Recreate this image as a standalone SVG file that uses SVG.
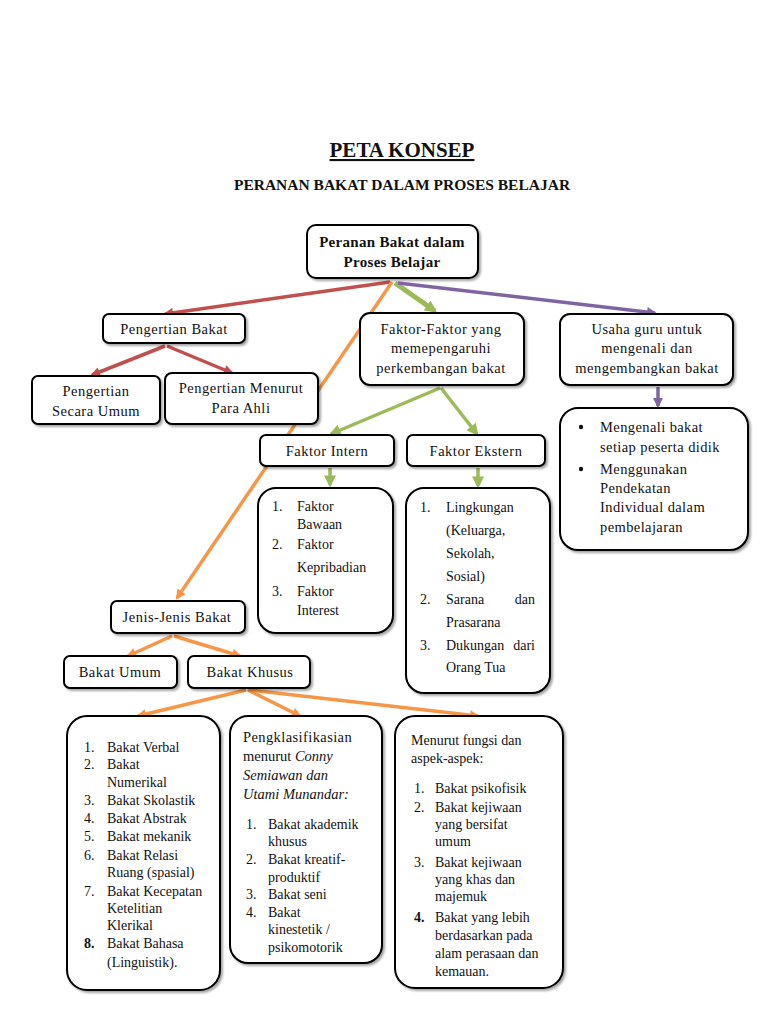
<svg xmlns="http://www.w3.org/2000/svg" width="768" height="1024" viewBox="0 0 768 1024" font-family="'Liberation Serif', 'DejaVu Serif', serif">
<style>
  text { font-family: "Liberation Serif", "DejaVu Serif", serif; font-size: 14px; fill: #111; }
  .c { text-anchor: middle; }
  .b { font-weight: bold; }
  .i { font-style: italic; }
  .lbl { font-size: 14.5px; letter-spacing: 0.5px; }
  .ul { font-size: 14.5px; letter-spacing: 0.4px; }
  .box { fill: #fff; stroke: #000; stroke-width: 2; filter: url(#sh); }
  .red { stroke: #C0504D; stroke-width: 3.5; fill: none; marker-end: url(#mr); }
  .grn { stroke: #9BBB59; stroke-width: 3.5; fill: none; marker-end: url(#mg); }
  .pur { stroke: #8064A2; stroke-width: 3.5; fill: none; marker-end: url(#mp); }
  .org { stroke: #F79646; stroke-width: 3.5; fill: none; marker-end: url(#mo); }
</style>
<defs>
  <filter id="sh" x="-10%" y="-10%" width="130%" height="130%">
    <feDropShadow dx="2" dy="2" stdDeviation="1.2" flood-color="#000" flood-opacity="0.35"/>
  </filter>
  <marker id="mr" viewBox="0 0 10 10" refX="8" refY="5" markerWidth="12" markerHeight="10" markerUnits="userSpaceOnUse" orient="auto"><path d="M0,0 L10,5 L0,10 z" fill="#C0504D"/></marker>
  <marker id="mg" viewBox="0 0 10 10" refX="8" refY="5" markerWidth="13" markerHeight="12" markerUnits="userSpaceOnUse" orient="auto"><path d="M0,0 L10,5 L0,10 z" fill="#9BBB59"/></marker>
  <marker id="mp" viewBox="0 0 10 10" refX="8" refY="5" markerWidth="12" markerHeight="10" markerUnits="userSpaceOnUse" orient="auto"><path d="M0,0 L10,5 L0,10 z" fill="#8064A2"/></marker>
  <marker id="mo" viewBox="0 0 10 10" refX="8" refY="5" markerWidth="12" markerHeight="10" markerUnits="userSpaceOnUse" orient="auto"><path d="M0,0 L10,5 L0,10 z" fill="#F79646"/></marker>
</defs>
<rect width="768" height="1024" fill="#fff"/>

<g id="title">
  <text x="402" y="157" class="c b" style="font-size:21px" text-decoration="underline">PETA KONSEP</text>
  <text x="402" y="190" class="c b" style="font-size:15.5px">PERANAN BAKAT DALAM PROSES BELAJAR</text>
</g>

<g id="connectors">
  <line class="red" x1="390" y1="282" x2="165" y2="314"/>
  <line class="org" x1="392" y1="282" x2="177" y2="598"/>
  <line class="grn" x1="395" y1="283" x2="435" y2="311" style="stroke-width:5"/>
  <line class="pur" x1="398" y1="283" x2="655" y2="313"/>
  <line class="red" x1="165" y1="346" x2="92" y2="375"/>
  <line class="red" x1="167" y1="346" x2="232" y2="373"/>
  <line class="grn" x1="440" y1="388" x2="331" y2="434"/>
  <line class="grn" x1="441" y1="388" x2="477" y2="434"/>
  <line class="pur" x1="658" y1="387" x2="658" y2="406"/>
  <line class="grn" x1="330" y1="468" x2="330" y2="485"/>
  <line class="grn" x1="478" y1="468" x2="478" y2="486"/>
  <line class="org" x1="172" y1="636" x2="128" y2="656"/>
  <line class="org" x1="174" y1="636" x2="240" y2="656"/>
  <line class="org" x1="246" y1="690" x2="138" y2="716"/>
  <line class="org" x1="248" y1="690" x2="300" y2="716"/>
  <line class="org" x1="250" y1="690" x2="478" y2="716"/>
</g>

<g id="root">
  <rect class="box" x="307" y="225" width="171" height="53" rx="9"/>
  <text x="392" y="247" class="c b" style="font-size:15px;letter-spacing:0.3px">Peranan Bakat dalam</text>
  <text x="392" y="267" class="c b" style="font-size:15px;letter-spacing:0.3px">Proses Belajar</text>
</g>

<g id="pengertian-bakat">
  <rect class="box" x="103" y="314" width="142" height="29" rx="6"/>
  <text x="174" y="334" class="c lbl">Pengertian Bakat</text>
</g>
<g id="pengertian-umum">
  <rect class="box" x="32" y="376" width="128" height="48" rx="6"/>
  <text x="96" y="396" class="c lbl">Pengertian</text>
  <text x="96" y="416" class="c lbl">Secara Umum</text>
</g>
<g id="pengertian-ahli">
  <rect class="box" x="165" y="373" width="153" height="51" rx="7"/>
  <text x="241" y="393" class="c lbl">Pengertian Menurut</text>
  <text x="241" y="413" class="c lbl">Para Ahli</text>
</g>

<g id="faktor">
  <rect class="box" x="360" y="313" width="164" height="72" rx="10"/>
  <text x="441" y="334" class="c lbl">Faktor-Faktor yang</text>
  <text x="441" y="353" class="c lbl">memepengaruhi</text>
  <text x="441" y="373" class="c lbl">perkembangan bakat</text>
</g>
<g id="usaha">
  <rect class="box" x="560" y="314" width="173" height="71" rx="10"/>
  <text x="647" y="334" class="c lbl">Usaha guru untuk</text>
  <text x="647" y="353" class="c lbl">mengenali dan</text>
  <text x="647" y="373" class="c lbl">mengembangkan bakat</text>
</g>
<g id="usaha-list">
  <rect class="box" x="560" y="408" width="188" height="142" rx="18"/>
  <circle cx="581" cy="427" r="2.2" fill="#111"/>
  <text x="600" y="432" class="ul">Mengenali bakat</text>
  <text x="600" y="452" class="ul">setiap peserta didik</text>
  <circle cx="581" cy="469" r="2.2" fill="#111"/>
  <text x="600" y="474" class="ul">Menggunakan</text>
  <text x="600" y="493" class="ul">Pendekatan</text>
  <text x="600" y="512" class="ul">Individual dalam</text>
  <text x="600" y="532" class="ul">pembelajaran</text>
</g>

<g id="faktor-intern">
  <rect class="box" x="260" y="435" width="134" height="31" rx="6"/>
  <text x="327" y="456" class="c lbl">Faktor Intern</text>
</g>
<g id="faktor-ekstern">
  <rect class="box" x="407" y="435" width="138" height="31" rx="6"/>
  <text x="476" y="456" class="c lbl">Faktor Ekstern</text>
</g>
<g id="intern-list">
  <rect class="box" x="258" y="488" width="135" height="145" rx="18"/>
  <text x="272" y="511">1.</text><text x="297" y="511">Faktor</text>
  <text x="297" y="529">Bawaan</text>
  <text x="272" y="549">2.</text><text x="297" y="549">Faktor</text>
  <text x="297" y="572">Kepribadian</text>
  <text x="272" y="596">3.</text><text x="297" y="596">Faktor</text>
  <text x="297" y="615">Interest</text>
</g>
<g id="ekstern-list">
  <rect class="box" x="406" y="488" width="144" height="205" rx="18"/>
  <text x="420" y="512">1.</text><text x="446" y="512">Lingkungan</text>
  <text x="446" y="535">(Keluarga,</text>
  <text x="446" y="558">Sekolah,</text>
  <text x="446" y="581">Sosial)</text>
  <text x="420" y="604">2.</text><text x="446" y="604">Sarana</text><text x="535" y="604" text-anchor="end">dan</text>
  <text x="446" y="627">Prasarana</text>
  <text x="420" y="650">3.</text><text x="446" y="650">Dukungan</text><text x="535" y="650" text-anchor="end">dari</text>
  <text x="446" y="672">Orang Tua</text>
</g>

<g id="jenis">
  <rect class="box" x="111" y="601" width="134" height="32" rx="6"/>
  <text x="177" y="622" class="c lbl">Jenis-Jenis Bakat</text>
</g>
<g id="bakat-umum">
  <rect class="box" x="64" y="656" width="113" height="32" rx="6"/>
  <text x="120" y="677" class="c lbl">Bakat Umum</text>
</g>
<g id="bakat-khusus">
  <rect class="box" x="188" y="656" width="122" height="32" rx="6"/>
  <text x="250" y="677" class="c lbl">Bakat Khusus</text>
</g>

<g id="list-1">
  <rect class="box" x="67" y="716" width="153" height="274" rx="20"/>
  <text x="84" y="752">1.</text><text x="107" y="752">Bakat Verbal</text>
  <text x="84" y="769">2.</text><text x="107" y="769">Bakat</text>
  <text x="107" y="787">Numerikal</text>
  <text x="84" y="805">3.</text><text x="107" y="805">Bakat Skolastik</text>
  <text x="84" y="823">4.</text><text x="107" y="823">Bakat Abstrak</text>
  <text x="84" y="841">5.</text><text x="107" y="841">Bakat mekanik</text>
  <text x="84" y="860">6.</text><text x="107" y="860">Bakat Relasi</text>
  <text x="107" y="877">Ruang (spasial)</text>
  <text x="84" y="896">7.</text><text x="107" y="896">Bakat Kecepatan</text>
  <text x="107" y="913">Ketelitian</text>
  <text x="107" y="930">Klerikal</text>
  <text x="84" y="948" class="b">8.</text><text x="107" y="948">Bakat Bahasa</text>
  <text x="107" y="967">(Linguistik).</text>
</g>

<g id="list-2">
  <rect class="box" x="230" y="716" width="152" height="247" rx="18"/>
  <text x="243" y="742" style="font-size:14.5px;letter-spacing:0.4px">Pengklasifikasian</text>
  <text x="243" y="761" style="font-size:14.5px">menurut <tspan class="i">Conny</tspan></text>
  <text x="243" y="780" class="i" style="font-size:14.5px">Semiawan dan</text>
  <text x="243" y="799" class="i" style="font-size:14.5px">Utami Munandar:</text>
  <text x="246" y="829">1.</text><text x="268" y="829">Bakat akademik</text>
  <text x="268" y="846">khusus</text>
  <text x="246" y="864">2.</text><text x="268" y="864">Bakat kreatif-</text>
  <text x="268" y="882">produktif</text>
  <text x="246" y="899">3.</text><text x="268" y="899">Bakat seni</text>
  <text x="246" y="917">4.</text><text x="268" y="917">Bakat</text>
  <text x="268" y="934">kinestetik /</text>
  <text x="268" y="952">psikomotorik</text>
</g>

<g id="list-3">
  <rect class="box" x="395" y="716" width="168" height="272" rx="20"/>
  <text x="411" y="745">Menurut fungsi dan</text>
  <text x="411" y="763">aspek-aspek:</text>
  <text x="414" y="793">1.</text><text x="435" y="793">Bakat psikofisik</text>
  <text x="414" y="812">2.</text><text x="435" y="812">Bakat kejiwaan</text>
  <text x="435" y="829">yang bersifat</text>
  <text x="435" y="846">umum</text>
  <text x="414" y="867">3.</text><text x="435" y="867">Bakat kejiwaan</text>
  <text x="435" y="884">yang khas dan</text>
  <text x="435" y="901">majemuk</text>
  <text x="414" y="922" class="b">4.</text><text x="435" y="922">Bakat yang lebih</text>
  <text x="435" y="940">berdasarkan pada</text>
  <text x="435" y="958">alam perasaan dan</text>
  <text x="435" y="976">kemauan.</text>
</g>
</svg>
